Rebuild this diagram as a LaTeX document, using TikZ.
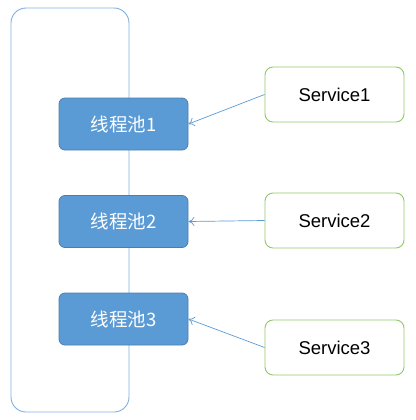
\documentclass[tikz,border=0pt]{standalone}
\usepackage{fontspec}
\setmainfont{Liberation Sans}
\newfontfamily\cjk{Noto Sans CJK SC}
\usetikzlibrary{arrows.meta}
\definecolor{poolfill}{HTML}{5B9BD5}
\definecolor{pooldraw}{HTML}{4A7EAF}
\definecolor{outer}{HTML}{7DAFE0}
\definecolor{svc}{HTML}{92C86A}
\definecolor{arr}{HTML}{5B9BD5}
\tikzset{
  pool/.style={draw=pooldraw, fill=poolfill, rounded corners=6pt, minimum width=129pt, minimum height=52pt, text=white, font=\fontsize{18.5pt}{20pt}\selectfont\cjk, inner sep=0pt, line width=0.8pt},
  svcbox/.style={draw=svc, fill=white, rounded corners=8pt, minimum width=139pt, minimum height=55pt, font=\fontsize{18.5pt}{20pt}\selectfont, inner sep=0pt, line width=0.9pt},
  conn/.style={draw=arr, line width=0.7pt, -{To[length=6pt,width=9pt]}},
  frame/.style={draw=outer, line width=0.9pt, rounded corners=15pt}
}
\begin{document}
\begin{tikzpicture}[x=1pt,y=-1pt]
\useasboundingbox (0,0) rectangle (415,420);
\draw[frame] (11,8) rectangle (129,412);
\node[pool] (p1) at (123.5,124) {线程池1};
\node[pool] (p2) at (123.5,221.5) {线程池2};
\node[pool] (p3) at (123.5,319) {线程池3};
\node[svcbox] (s1) at (334.5,94.5) {Service1};
\node[svcbox] (s2) at (334.5,220.5) {Service2};
\node[svcbox] (s3) at (334.5,347.5) {Service3};
\draw[conn] (s1.west) -- (p1.east);
\draw[conn] (s2.west) -- (p2.east);
\draw[conn] (s3.west) -- (p3.east);
\end{tikzpicture}
\end{document}
